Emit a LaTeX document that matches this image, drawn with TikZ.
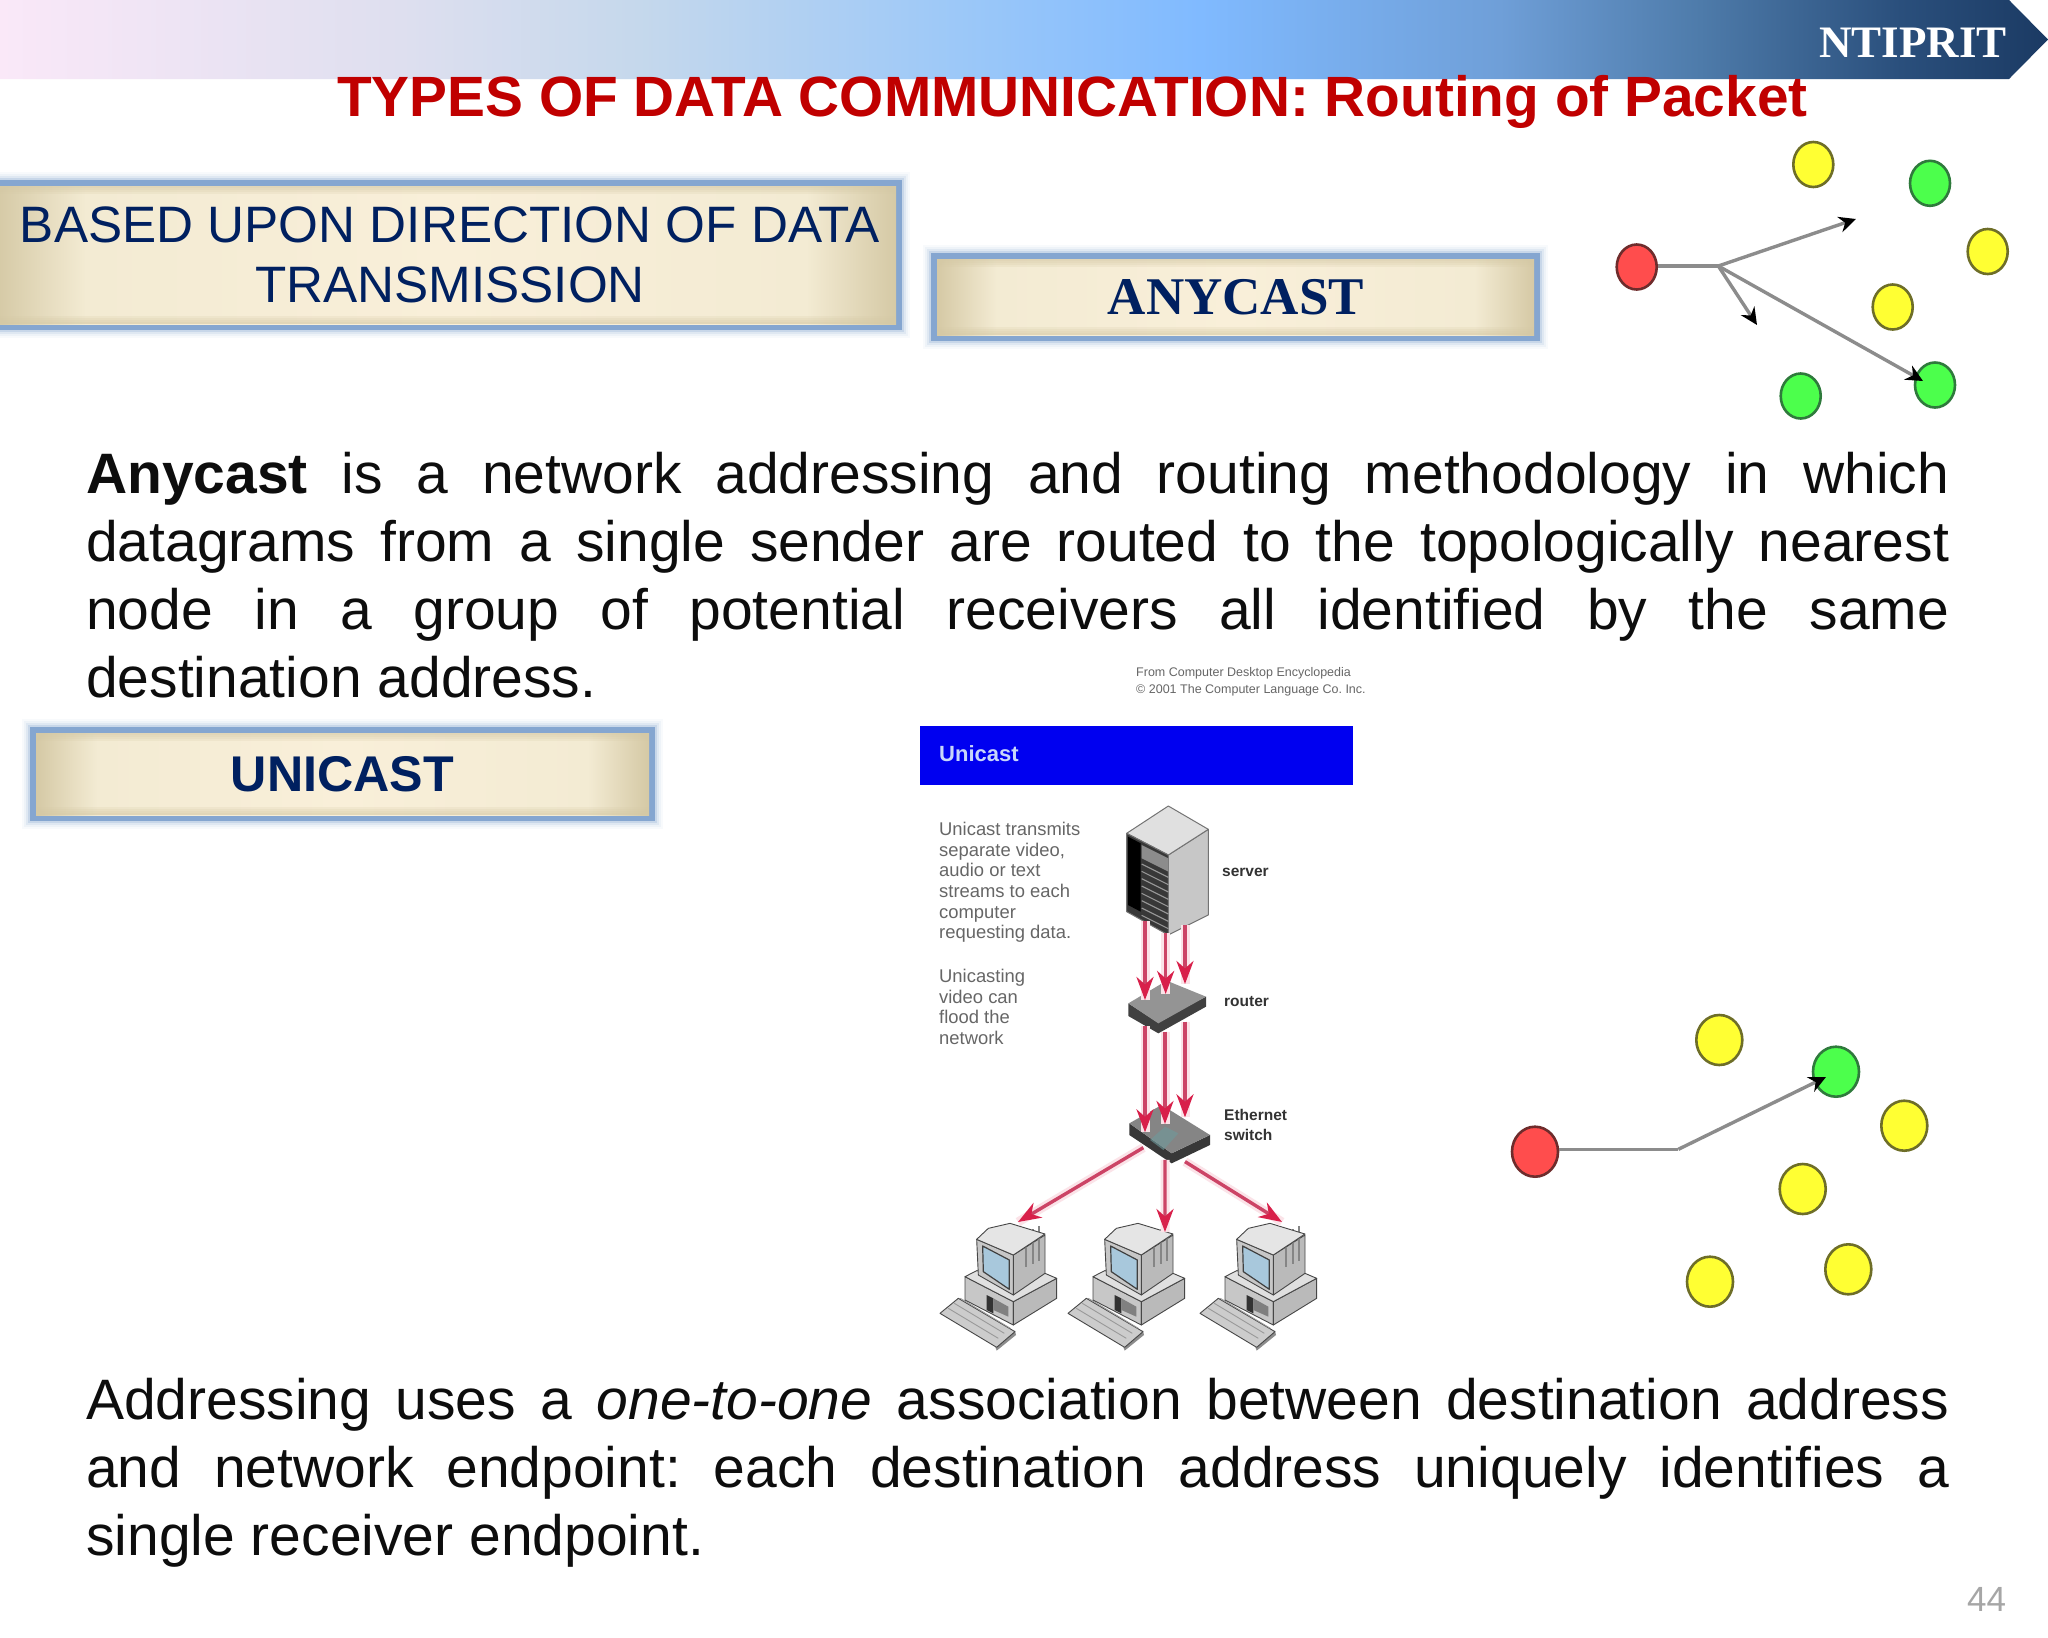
\documentclass[tikz,border=0pt]{standalone}
\usepackage{fontspec}
\setmainfont{Liberation Sans}
\newfontfamily\tnr{Liberation Serif}
\usetikzlibrary{arrows.meta,shapes.geometric}
\frenchspacing
\definecolor{navy}{HTML}{002060}
\definecolor{titlered}{HTML}{C00000}
\definecolor{boxedge}{HTML}{85A6D0}
\definecolor{tan}{HTML}{D5C9A5}
\definecolor{ylfill}{HTML}{FFFF33}
\definecolor{yledge}{HTML}{6E6E28}
\definecolor{grfill}{HTML}{4CFF4C}
\definecolor{gredge}{HTML}{2F7A3C}
\definecolor{rdfill}{HTML}{FF4D4D}
\definecolor{rdedge}{HTML}{6E2C2C}
\definecolor{netline}{HTML}{8C8C8C}
\definecolor{wire}{HTML}{CC4466}
\definecolor{wiretip}{HTML}{D8204A}
\definecolor{halo}{HTML}{FBE3E8}
\definecolor{barblue}{HTML}{0000F0}
\definecolor{bartext}{HTML}{C8D6FA}
\definecolor{screen}{HTML}{A8C8DC}
\definecolor{teal}{HTML}{6E9A9C}
\definecolor{hA}{HTML}{FAE8F8}
\definecolor{hB}{HTML}{DEDFEF}
\definecolor{hC}{HTML}{C5D8EC}
\definecolor{hD}{HTML}{9CC8F8}
\definecolor{hE}{HTML}{80BAFF}
\definecolor{hF}{HTML}{6F9FD8}
\definecolor{hG}{HTML}{4E7BAA}
\definecolor{hH}{HTML}{2A4F7C}
\definecolor{hI}{HTML}{1B3A63}
\definecolor{bA}{HTML}{D5C9A5}
\definecolor{bB}{HTML}{F3EBD3}
\definecolor{bC}{HTML}{F9EFD9}
\pgfdeclarehorizontalshading{hdrshade}{100bp}{
 color(0bp)=(hA);
 color(25bp)=(hA);
 color(34.8bp)=(hB);
 color(40.6bp)=(hC);
 color(48.4bp)=(hD);
 color(54.3bp)=(hE);
 color(61.6bp)=(hF);
 color(66.5bp)=(hG);
 color(71.4bp)=(hH);
 color(75bp)=(hI);
 color(100bp)=(hI)}
\pgfdeclarehorizontalshading{boxshade}{100bp}{
 color(0bp)=(bA);
 color(25bp)=(bA);
 color(30bp)=(bB);
 color(50bp)=(bC);
 color(70bp)=(bB);
 color(75bp)=(bA);
 color(100bp)=(bA)}
\newcommand\gbox[4]{%
 \foreach \g/\o in {8/.05,6/.08,4/.14,2/.25}{
  \fill[boxedge,opacity=\o] (#1-\g,#2-\g) rectangle (#3+\g,#4+\g);}
 \fill[boxedge] (#1,#2) rectangle (#3,#4);
 \path[shading=boxshade] (#1+6,#2+6) rectangle (#3-6,#4-6);
 \foreach \k in {2,4,6,8}{
  \fill[tan,opacity=.2] (#1+6,#2+6) rectangle (#3-6,#2+6+\k);
  \fill[tan,opacity=.2] (#1+6,#4-6-\k) rectangle (#3-6,#4-6);}
}
\newcommand\pcunit[1]{%
 \begin{scope}[shift={(930+#1,1210)},x=0.3333pt,y=-0.3333pt,draw=black!72,line width=.9pt,line join=round]
  \fill[black!45] (200,422) -- (258,375) -- (255,362) -- (195,408) -- cycle;
  \filldraw[fill=black!20] (30,310) -- (85,265) -- (255,365) -- (200,412) -- cycle;
  \foreach \k in {0,1,2}{\draw[black!40] (55+\k*18,295-\k*15) -- (205+\k*18,385-\k*15);}
  \filldraw[fill=black!22] (105,200) -- (250,275) -- (250,345) -- (105,270) -- cycle;
  \filldraw[fill=black!27] (250,275) -- (380,205) -- (380,265) -- (250,345) -- cycle;
  \filldraw[fill=black!12] (105,200) -- (140,182) -- (345,190) -- (380,205) -- (250,275) -- cycle;
  \fill[black!80] (170,255) -- (190,265) -- (190,310) -- (170,300) -- cycle;
  \fill[black!50] (190,265) -- (235,290) -- (235,320) -- (190,300) -- cycle;
  \filldraw[fill=black!27] (250,135) -- (345,75) -- (345,190) -- (250,255) -- cycle;
  \foreach \v in {285,305,325}{\fill[black!48] (\v,195-\v*.45) rectangle (\v+6,300-\v*.45);}
  \filldraw[fill=black!22] (140,88) -- (250,135) -- (250,255) -- (145,195) -- cycle;
  \filldraw[fill=black!10] (140,88) -- (175,55) -- (240,40) -- (345,72) -- (250,135) -- cycle;
  \filldraw[fill=screen,draw=black!75,line width=1.2pt] (158,108) -- (238,150) -- (238,238) -- (160,185) -- cycle;
 \end{scope}}
\tikzset{
 body/.style={anchor=north west,inner sep=0pt,text width=1863pt,align=justify,font=\fontsize{57}{68.2}\selectfont,text=black!95},
 boxlabel/.style={inner sep=0pt,text=navy},
 ynode/.style={ellipse,draw=yledge,fill=ylfill,line width=2.6pt,inner sep=0pt},
 gnode/.style={ellipse,draw=gredge,fill=grfill,line width=2.6pt,inner sep=0pt},
 rnode/.style={ellipse,draw=rdedge,fill=rdfill,line width=2.6pt,inner sep=0pt},
 small/.style={minimum width=40pt,minimum height=45pt},
 big/.style={minimum width=46pt,minimum height=50pt},
 net/.style={draw=netline,line width=3.4pt},
 netarrow/.style={net,-{Stealth[length=17pt,width=16pt,black]}},
 wireline/.style={draw=wire,line width=3.4pt,-{Stealth[length=23pt,width=17pt,wiretip]},preaction={draw=halo,line width=9pt,arrows=-}},
 pictxt/.style={anchor=base west,inner sep=0pt,text=black!60,font=\fontsize{18.4}{20.7}\selectfont},
 piclabel/.style={anchor=base west,inner sep=0pt,text=black!80,font=\fontsize{15.5}{20}\selectfont\bfseries},
}
\begin{document}
\begin{tikzpicture}[x=1pt,y=-1pt]
\useasboundingbox (0,0) rectangle (2048,1638);
\fill[white] (0,0) rectangle (2048,1638);
\path[shading=hdrshade] (0,0) -- (2009,0) -- (2048,39.5) -- (2009,79) -- (0,79) -- cycle;
\node[anchor=base west,inner sep=0pt,text=white,font=\tnr\fontsize{45}{50}\selectfont\bfseries] (brand) at (1819,57) {NTIPRIT};
\node[anchor=base west,inner sep=0pt,text=titlered,font=\fontsize{56.8}{60}\selectfont\bfseries] (title) at (337,116) {TYPES OF DATA COMMUNICATION: Routing of Packet};
\gbox{-10}{180}{902}{330}
\node[boxlabel,align=center,font=\fontsize{51.2}{59.5}\selectfont] (based) at (450,255) {BASED UPON DIRECTION OF DATA\\TRANSMISSION};
\gbox{931}{253}{1540}{341}
\node[boxlabel,anchor=base,font=\tnr\fontsize{53}{55}\selectfont\bfseries] (anycast) at (1236,314) {ANYCAST};
\gbox{30}{727}{655}{821}
\node[boxlabel,anchor=base,font=\fontsize{50.2}{55}\selectfont\bfseries] (unicast) at (342.5,791) {UNICAST};
\node[body] (para1) at (86,451.5) {\textbf{Anycast} is a network addressing and routing methodology in which\linebreak datagrams from a single sender are routed to the topologically nearest\linebreak node in a group of potential receivers all identified by the same\linebreak destination address.};
\node[body] (para2) at (86,1377.5) {Addressing uses a \textit{one-to-one} association between destination address\linebreak and network endpoint: each destination address uniquely identifies a\linebreak single receiver endpoint.};
\node[anchor=base west,inner sep=0pt,text=black!35,font=\fontsize{35}{40}\selectfont] (pageno) at (1967,1611) {44};
\node[ynode,small] (a1) at (1813.3,164.5) {};
\node[gnode,small] (a2) at (1930,183.3) {};
\node[ynode,small] (a3) at (1987.7,251.5) {};
\node[ynode,small] (a4) at (1892.7,307) {};
\node[gnode,small] (a5) at (1935,385) {};
\node[gnode,small] (a6) at (1800.7,396) {};
\node[rnode,small] (a0) at (1636.7,267) {};
\coordinate (aj) at (1718.3,266);
\coordinate (ae1) at (1856,219);
\coordinate (ae2) at (1923,381);
\coordinate (ae3) at (1757,325);
\draw[net] (a0.east |- aj) -- (aj);
\draw[netarrow] (aj) -- (ae1);
\draw[netarrow] (aj) -- (ae2);
\draw[netarrow] (aj) -- (ae3);
\node[ynode,big] (u1) at (1719.3,1040) {};
\node[gnode,big] (u2) at (1836,1071.7) {};
\node[ynode,big] (u3) at (1904.3,1125.7) {};
\node[ynode,big] (u4) at (1802.7,1189) {};
\node[ynode,big] (u5) at (1848.3,1269.3) {};
\node[ynode,big] (u6) at (1710,1281.7) {};
\node[rnode,big] (u0) at (1535,1151.7) {};
\coordinate (uj) at (1678.3,1149.3);
\coordinate (ue) at (1826,1077);
\draw[net] (u0.east |- uj) -- (uj);
\draw[netarrow] (uj) -- (ue);
\node[anchor=base west,inner sep=0pt,text=black!60,font=\fontsize{12.5}{16}\selectfont] (cr1) at (1136,676) {From Computer Desktop Encyclopedia};
\node[anchor=base west,inner sep=0pt,text=black!60,font=\fontsize{12.5}{16}\selectfont] (cr2) at (1136,693) {© 2001 The Computer Language Co. Inc.};
\fill[barblue] (920,726) rectangle (1353,785);
\node[anchor=base west,inner sep=0pt,text=bartext,font=\fontsize{22}{24}\selectfont\bfseries] (ubar) at (939,761) {Unicast};
\node[pictxt] (t1) at (939,835) {Unicast transmits};
\node[pictxt] (t2) at (939,856) {separate video,};
\node[pictxt] (t3) at (939,876.5) {audio or text};
\node[pictxt] (t4) at (939,897) {streams to each};
\node[pictxt] (t5) at (939,918) {computer};
\node[pictxt] (t6) at (939,938) {requesting data.};
\node[pictxt] (t7) at (939,982) {Unicasting};
\node[pictxt] (t8) at (939,1003) {video can};
\node[pictxt] (t9) at (939,1023) {flood the};
\node[pictxt] (t10) at (939,1044) {network};
\node[piclabel] (lserver) at (1222,876) {server};
\node[piclabel] (lrouter) at (1224,1006) {router};
\node[piclabel] (leth) at (1224,1120) {Ethernet};
\node[piclabel] (lsw) at (1224,1140) {switch};
\begin{scope}[shift={(1100,790)},x=0.3333pt,y=-0.3333pt,draw=black!55,line width=1pt,line join=round]
 \filldraw[fill=black!22] (205,195) -- (325,118) -- (325,375) -- (205,435) -- cycle;
 \filldraw[fill=black!12] (205,48) -- (325,118) -- (205,195) -- (80,130) -- cycle;
 \filldraw[fill=black!78] (80,130) -- (205,195) -- (205,435) -- (80,365) -- cycle;
 \fill[black] (84,140) -- (122,160) -- (122,365) -- (84,345) -- cycle;
 \fill[black!45] (125,165) -- (205,205) -- (205,245) -- (125,205) -- cycle;
 \foreach \k in {0,...,7}{\draw[black!40,line width=1.1pt] (125,222+\k*22) -- (205,262+\k*22);}
 \coordinate (sv1) at (135,392);
 \coordinate (sv2) at (197,430);
 \coordinate (sv3) at (255,405);
\end{scope}
\begin{scope}[shift={(1100,960)},x=0.3333pt,y=-0.3333pt,line join=round]
 \fill[black!75] (85,130) -- (170,185) -- (318,110) -- (318,140) -- (175,220) -- (85,168) -- cycle;
 \fill[black!42] (85,130) -- (200,62) -- (318,110) -- (175,190) -- cycle;
 \coordinate (rin1) at (135,120); \coordinate (rin2) at (197,102); \coordinate (rin3) at (255,72);
 \coordinate (rout1) at (135,198); \coordinate (rout2) at (195,215); \coordinate (rout3) at (255,185);
 \fill[black!78] (88,490) -- (215,580) -- (330,525) -- (330,555) -- (215,610) -- (88,525) -- cycle;
 \fill[black!48] (88,490) -- (185,435) -- (330,525) -- (215,580) -- cycle;
 \fill[teal,opacity=.6] (150,540) -- (195,500) -- (235,520) -- (190,570) -- cycle;
 \coordinate (sin1) at (135,517); \coordinate (sin2) at (195,492); \coordinate (sin3) at (255,472);
 \coordinate (sout1) at (130,563); \coordinate (sout2) at (195,600); \coordinate (sout3) at (255,605);
\end{scope}
\pcunit{0}
\pcunit{128}
\pcunit{260}
\coordinate (pc1) at (1018,1222);
\coordinate (pc2) at (1165,1232);
\coordinate (pc3) at (1282,1222);
\draw[wireline] (sv1) -- (rin1);
\draw[wireline] (sv2) -- (rin2);
\draw[wireline] (sv3) -- (rin3);
\draw[wireline] (rout1) -- (sin1);
\draw[wireline] (rout2) -- (sin2);
\draw[wireline] (rout3) -- (sin3);
\draw[wireline] (sout1) -- (pc1);
\draw[wireline] (sout2) -- (pc2);
\draw[wireline] (sout3) -- (pc3);
\end{tikzpicture}
\end{document}
